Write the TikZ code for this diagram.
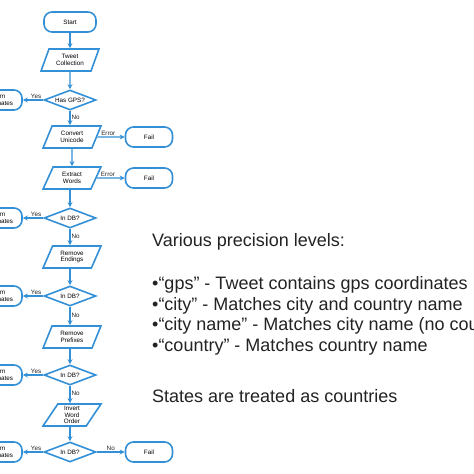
\documentclass[tikz,border=0pt]{standalone}
\usepackage{fontspec}
\setmainfont{Liberation Sans}
\usetikzlibrary{shapes.geometric,arrows.meta}
\definecolor{fcblue}{RGB}{52,144,214}
\definecolor{txtgray}{RGB}{35,35,35}
\tikzset{
  base/.style={draw=fcblue,line width=1.6pt,fill=white,font=\fontsize{6.3}{6.8}\selectfont,align=center,inner sep=0pt},
  term/.style={base,rounded corners=8pt,minimum width=52pt,minimum height=20pt},
  io/.style={base,trapezium,trapezium left angle=65,trapezium right angle=115,trapezium stretches=true,minimum width=58pt,minimum height=22pt},
  dec/.style={base,diamond,minimum width=52pt,minimum height=20pt,shape aspect=2.6},
  arr/.style={draw=fcblue,line width=1.3pt,-{Stealth[length=5pt,width=5pt]}},
  lab/.style={font=\fontsize{6.3}{6.3}\selectfont,text=txtgray,inner sep=1pt},
  big/.style={font=\fontsize{18}{21}\selectfont,text=txtgray,anchor=west,inner sep=0pt}
}
\begin{document}
\begin{tikzpicture}[x=1pt,y=-1pt]
\useasboundingbox (0,0) rectangle (474,474);
\clip (0,0) rectangle (474,474);
\fill[white] (0,0) rectangle (474,474);
% main column
\node[term] (start) at (70,22) {Start};
\node[io] (tweet) at (70,60) {Tweet\\Collection};
\node[dec] (gps) at (70,100) {Has GPS?};
\node[io] (conv) at (72,137) {Convert\\Unicode};
\node[io] (extr) at (72,178) {Extract\\Words};
\node[dec] (db1) at (70,218) {In DB?};
\node[io] (end) at (72,257) {Remove\\Endings};
\node[dec] (db2) at (70,296) {In DB?};
\node[io] (pre) at (72,337) {Remove\\Prefixes};
\node[dec] (db3) at (70,375) {In DB?};
\node[io] (inv) at (72,415) {Invert\\Word\\Order};
\node[dec] (db4) at (70,452) {In DB?};
% left return nodes (cut off by the picture edge, as in the reference)
\node[term] (r1) at (-4,100) {Return\\Coordinates};
\node[term] (r2) at (-4,218) {Return\\Coordinates};
\node[term] (r3) at (-4,296) {Return\\Coordinates};
\node[term] (r4) at (-4,375) {Return\\Coordinates};
\node[term] (r5) at (-4,452) {Return\\Coordinates};
% fail nodes
\node[term,minimum width=47pt] (f1) at (149,137) {Fail};
\node[term,minimum width=47pt] (f2) at (149,178) {Fail};
\node[term,minimum width=47pt] (f3) at (149,452) {Fail};
% vertical arrows
\draw[arr] (start) -- (tweet);
\draw[arr] (tweet) -- (gps);
\draw[arr] (gps) -- node[lab,right,pos=0.45]{No} (gps|-conv.north);
\draw[arr] (conv.south-|extr) -- (extr);
\draw[arr] (extr.south-|db1) -- (db1);
\draw[arr] (db1) -- node[lab,right,pos=0.45]{No} (db1|-end.north);
\draw[arr] (end.south-|db2) -- (db2);
\draw[arr] (db2) -- node[lab,right,pos=0.45]{No} (db2|-pre.north);
\draw[arr] (pre.south-|db3) -- (db3);
\draw[arr] (db3) -- node[lab,right,pos=0.45]{No} (db3|-inv.north);
\draw[arr] (inv.south-|db4) -- (db4);
% yes arrows
\foreach \d/\r in {gps/r1,db1/r2,db2/r3,db3/r4,db4/r5}{
  \draw[arr] (\d.west) -- node[lab,above,pos=0.35]{Yes} (\r.east);
}
% error arrows
\draw[arr] (conv.east) -- node[lab,above,pos=0.4]{Error} (f1.west);
\draw[arr] (extr.east) -- node[lab,above,pos=0.4]{Error} (f2.west);
\draw[arr] (db4.east) -- node[lab,above,pos=0.5]{No} (f3.west);
% text block
\node[big] (t1) at (152,242) {Various precision levels:};
\node[big] (t2) at (152,285) {•“gps” - Tweet contains gps coordinates};
\node[big] (t3) at (152,306) {•“city” - Matches city and country name};
\node[big] (t4) at (152,326) {•“city name” - Matches city name (no country)};
\node[big] (t5) at (152,347) {•“country” - Matches country name};
\node[big] (t6) at (152,396) {States are treated as countries};
\end{tikzpicture}
\end{document}
